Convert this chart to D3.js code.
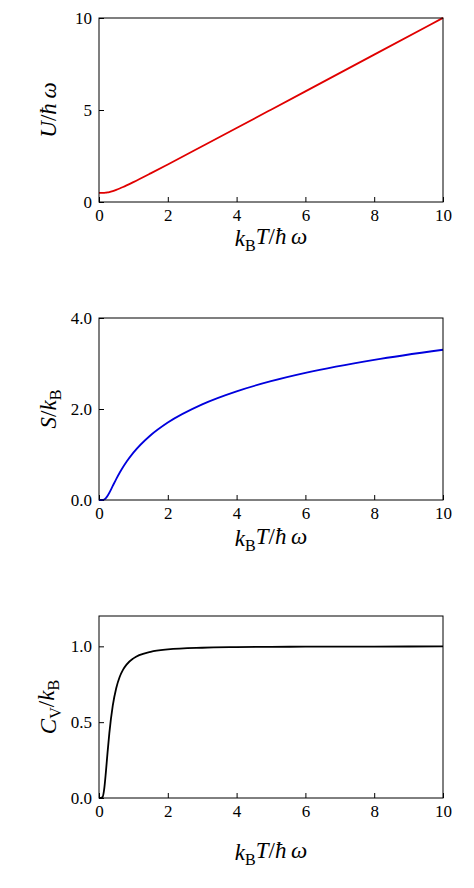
<!DOCTYPE html>
<html><head><meta charset="utf-8">
<script src="https://cdn.jsdelivr.net/npm/d3@7"></script>
<style>
body{margin:0;background:#fff;}
text{font-family:"Liberation Serif","DejaVu Serif",serif;}
</style></head>
<body><div id="chart"></div>
<script>
// temperature samples k_B T / hbar omega
var temps = [0, 0.05, 0.1, 0.15, 0.2, 0.25, 0.3, 0.4, 0.5, 0.6, 0.7, 0.8, 1, 1.5, 2, 3, 4, 5, 6, 8, 10];
// energy U / hbar omega
var energy = [0.5, 0.5, 0.5, 0.5013, 0.5068, 0.5187, 0.537, 0.5894, 0.6565, 0.7329, 0.8153, 0.9016, 1.082, 1.555, 2.041, 3.028, 4.021, 5.017, 6.014, 8.01, 10.008];
// entropy S / k_B
var entropy = [0, 0, 0.0005, 0.0098, 0.0407, 0.0931, 0.1596, 0.3093, 0.4584, 0.5976, 0.7244, 0.8396, 1.0407, 1.4238, 1.7035, 2.103, 2.389, 2.611, 2.793, 3.08, 3.3026];
// heat capacity C_V / k_B
var heatCap = [0, 0, 0.0045, 0.0567, 0.1707, 0.3041, 0.4262, 0.609, 0.7241, 0.7976, 0.8463, 0.8795, 0.9207, 0.9633, 0.9794, 0.9908, 0.9948, 0.9967, 0.9977, 0.9987, 0.9992];

var xTicks = [0, 2, 4, 6, 8, 10];

var panels = [
  {vals: energy, color: "#e00000", top: 18, bottom: 202, dom: [0, 10], ticks: [0, 5, 10], fmt: d3.format("d"),
   ylab: [["U", "i"], ["/", ""], ["ħ", "i"], ["\u2009ω", "i"]], xlabY: 246},
  {vals: entropy, color: "#0000dd", top: 318, bottom: 500, dom: [0, 4], ticks: [0, 2, 4], fmt: d3.format(".1f"),
   ylab: [["S", "i"], ["/", ""], ["k", "i"], ["B", "sub"]], xlabY: 546},
  {vals: heatCap, color: "#000", top: 616, bottom: 798, dom: [0, 1.2], ticks: [0, 0.5, 1.0], fmt: d3.format(".1f"),
   ylab: [["C", "i"], ["V", "sub"], ["/", ""], ["k", "i"], ["B", "sub"]], xlabY: 860}
];

var svg = d3.select("#chart").append("svg").attr("width", 474).attr("height", 888);
var x = d3.scaleLinear().domain([0, 10]).range([99, 443]);

panels.forEach(function (p) {
  var y = d3.scaleLinear().domain(p.dom).range([p.bottom, p.top]);
  var g = svg.append("g");

  g.append("g").attr("transform", "translate(0," + p.bottom + ")")
    .call(d3.axisBottom(x).tickValues(xTicks).tickSizeInner(-5).tickSizeOuter(0).tickPadding(7).tickFormat(d3.format("d")))
    .call(function (a) { a.select(".domain").remove(); a.selectAll("text").attr("font-size", 17); });
  g.append("g").attr("transform", "translate(99,0)")
    .call(d3.axisLeft(y).tickValues(p.ticks).tickSizeInner(-5).tickSizeOuter(0).tickPadding(7).tickFormat(p.fmt))
    .call(function (a) { a.select(".domain").remove(); a.selectAll("text").attr("font-size", 17); });

  var line = d3.line().x(function (d, i) { return x(temps[i]); }).y(function (d) { return y(d); }).curve(d3.curveMonotoneX);
  g.append("path").datum(p.vals).attr("d", line).attr("fill", "none").attr("stroke", p.color).attr("stroke-width", 1.8);

  g.append("rect").attr("x", 99).attr("y", p.top).attr("width", 344).attr("height", p.bottom - p.top)
    .attr("fill", "none").attr("stroke", "#000").attr("stroke-width", 1);

  var xl = g.append("text").attr("x", 271).attr("y", p.xlabY).attr("text-anchor", "middle").attr("font-size", 23);
  xl.append("tspan").attr("font-style", "italic").text("k");
  xl.append("tspan").attr("font-size", "70%").attr("dy", "0.3em").text("B");
  xl.append("tspan").attr("font-style", "italic").attr("dy", "-0.3em").text("T");
  xl.append("tspan").text("/");
  xl.append("tspan").attr("font-style", "italic").text("ħ\u2009ω");

  var yl = g.append("text").attr("text-anchor", "middle").attr("font-size", 23)
    .attr("transform", "translate(56," + ((p.top + p.bottom) / 2) + ") rotate(-90)");
  var prevSub = false;
  p.ylab.forEach(function (q) {
    var s = yl.append("tspan").text(q[0]);
    if (q[1] == "i") s.attr("font-style", "italic");
    if (q[1] == "sub") { s.attr("font-size", "70%").attr("dy", "0.3em"); prevSub = true; }
    else if (prevSub) { s.attr("dy", "-0.3em"); prevSub = false; }
  });
});
</script></body></html>
